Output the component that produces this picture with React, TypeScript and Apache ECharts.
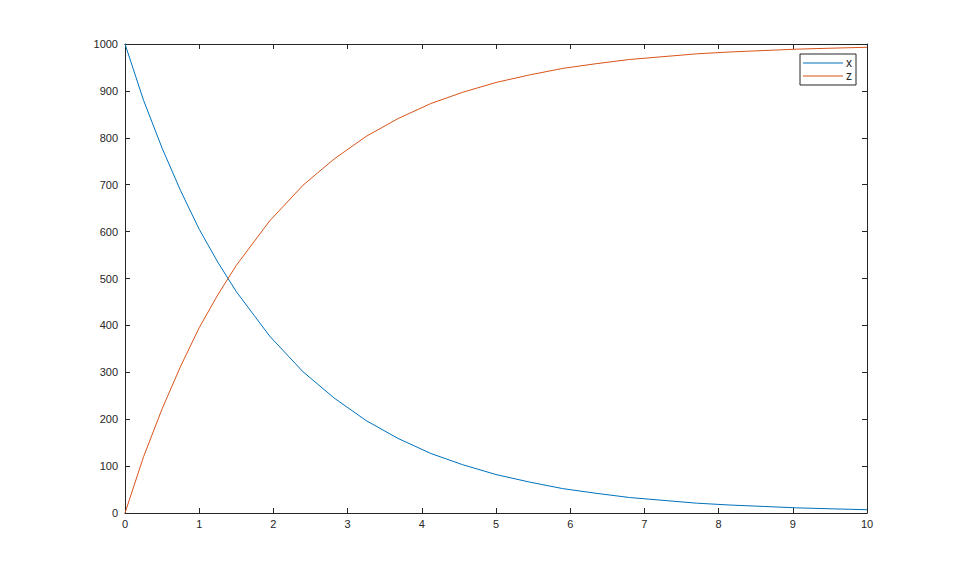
import React, { useEffect, useRef } from "react";
import * as echarts from "echarts";

const tValues = [0, 0.25, 0.5, 0.75, 1.0, 1.25, 1.5, 1.95, 2.4, 2.82, 3.25, 3.68, 4.12, 4.55, 5.0, 5.45, 5.9, 6.35, 6.8, 7.25, 7.7, 8.15, 8.6, 9.05, 9.5, 10];
const xValues = [1000, 880, 778, 687, 605, 535, 472, 377, 301, 245, 197, 159, 127, 103, 82, 66, 52, 42, 33, 27, 21, 17, 14, 11, 9, 7];
const zValues = [0, 120, 222, 313, 395, 465, 528, 623, 699, 755, 803, 841, 873, 897, 918, 934, 948, 958, 967, 973, 979, 983, 986, 989, 991, 993];
const seriesNames = ["x", "z"];
const colors = ["#0072BD", "#D95319"];

const axisColor = "#262626";
const font = "Arial, 'Liberation Sans', Helvetica, sans-serif";

export default function App() {
  const ref = useRef<HTMLDivElement>(null);
  useEffect(() => {
    if (!ref.current) return;
    const chart = echarts.init(ref.current, undefined, { renderer: "svg" });
    const baseAxis = {
      axisLine: { show: true, onZero: false, lineStyle: { color: axisColor, width: 1 } },
      axisTick: { show: true, inside: true, length: 5, lineStyle: { color: axisColor } },
      splitLine: { show: false },
    };
    chart.setOption({
      animation: false,
      backgroundColor: "#ffffff",
      grid: { left: 125, right: 92, top: 44, bottom: 64, containLabel: false },
      legend: {
        data: seriesNames,
        orient: "vertical",
        left: 800,
        top: 54,
        padding: [3, 4, 3, 3],
        itemGap: 1,
        itemWidth: 40,
        itemHeight: 1.2,
        icon: "rect",
        borderColor: axisColor,
        borderWidth: 1,
        backgroundColor: "#ffffff",
        textStyle: { fontFamily: font, fontSize: 12, color: axisColor, padding: [0, 0, 0, -2] },
      },
      xAxis: [
        {
          ...baseAxis,
          type: "value",
          min: 0,
          max: 10,
          interval: 1,
          position: "bottom",
          axisLabel: { color: axisColor, fontFamily: font, fontSize: 11, margin: 5 },
        },
        {
          ...baseAxis,
          type: "value",
          min: 0,
          max: 10,
          interval: 1,
          position: "top",
          axisLabel: { show: false },
        },
      ],
      yAxis: [
        {
          ...baseAxis,
          type: "value",
          min: 0,
          max: 1000,
          interval: 100,
          position: "left",
          axisLabel: {
            color: axisColor,
            fontFamily: font,
            fontSize: 11,
            margin: 7,
            formatter: (v: number) => String(v),
          },
        },
        {
          ...baseAxis,
          type: "value",
          min: 0,
          max: 1000,
          interval: 100,
          position: "right",
          axisLabel: { show: false },
        },
      ],
      series: [
        {
          name: seriesNames[0],
          type: "line",
          data: tValues.map((t, i) => [t, xValues[i]]),
          showSymbol: false,
          symbol: "none",
          lineStyle: { color: colors[0], width: 1 },
          itemStyle: { color: colors[0] },
        },
        {
          name: seriesNames[1],
          type: "line",
          data: tValues.map((t, i) => [t, zValues[i]]),
          showSymbol: false,
          symbol: "none",
          lineStyle: { color: colors[1], width: 1 },
          itemStyle: { color: colors[1] },
        },
      ],
    });
    return () => chart.dispose();
  }, []);
  return (
    <div
      ref={ref}
      style={{ position: "fixed", left: 0, top: 0, width: 959, height: 577, background: "#fff" }}
    />
  );
}
